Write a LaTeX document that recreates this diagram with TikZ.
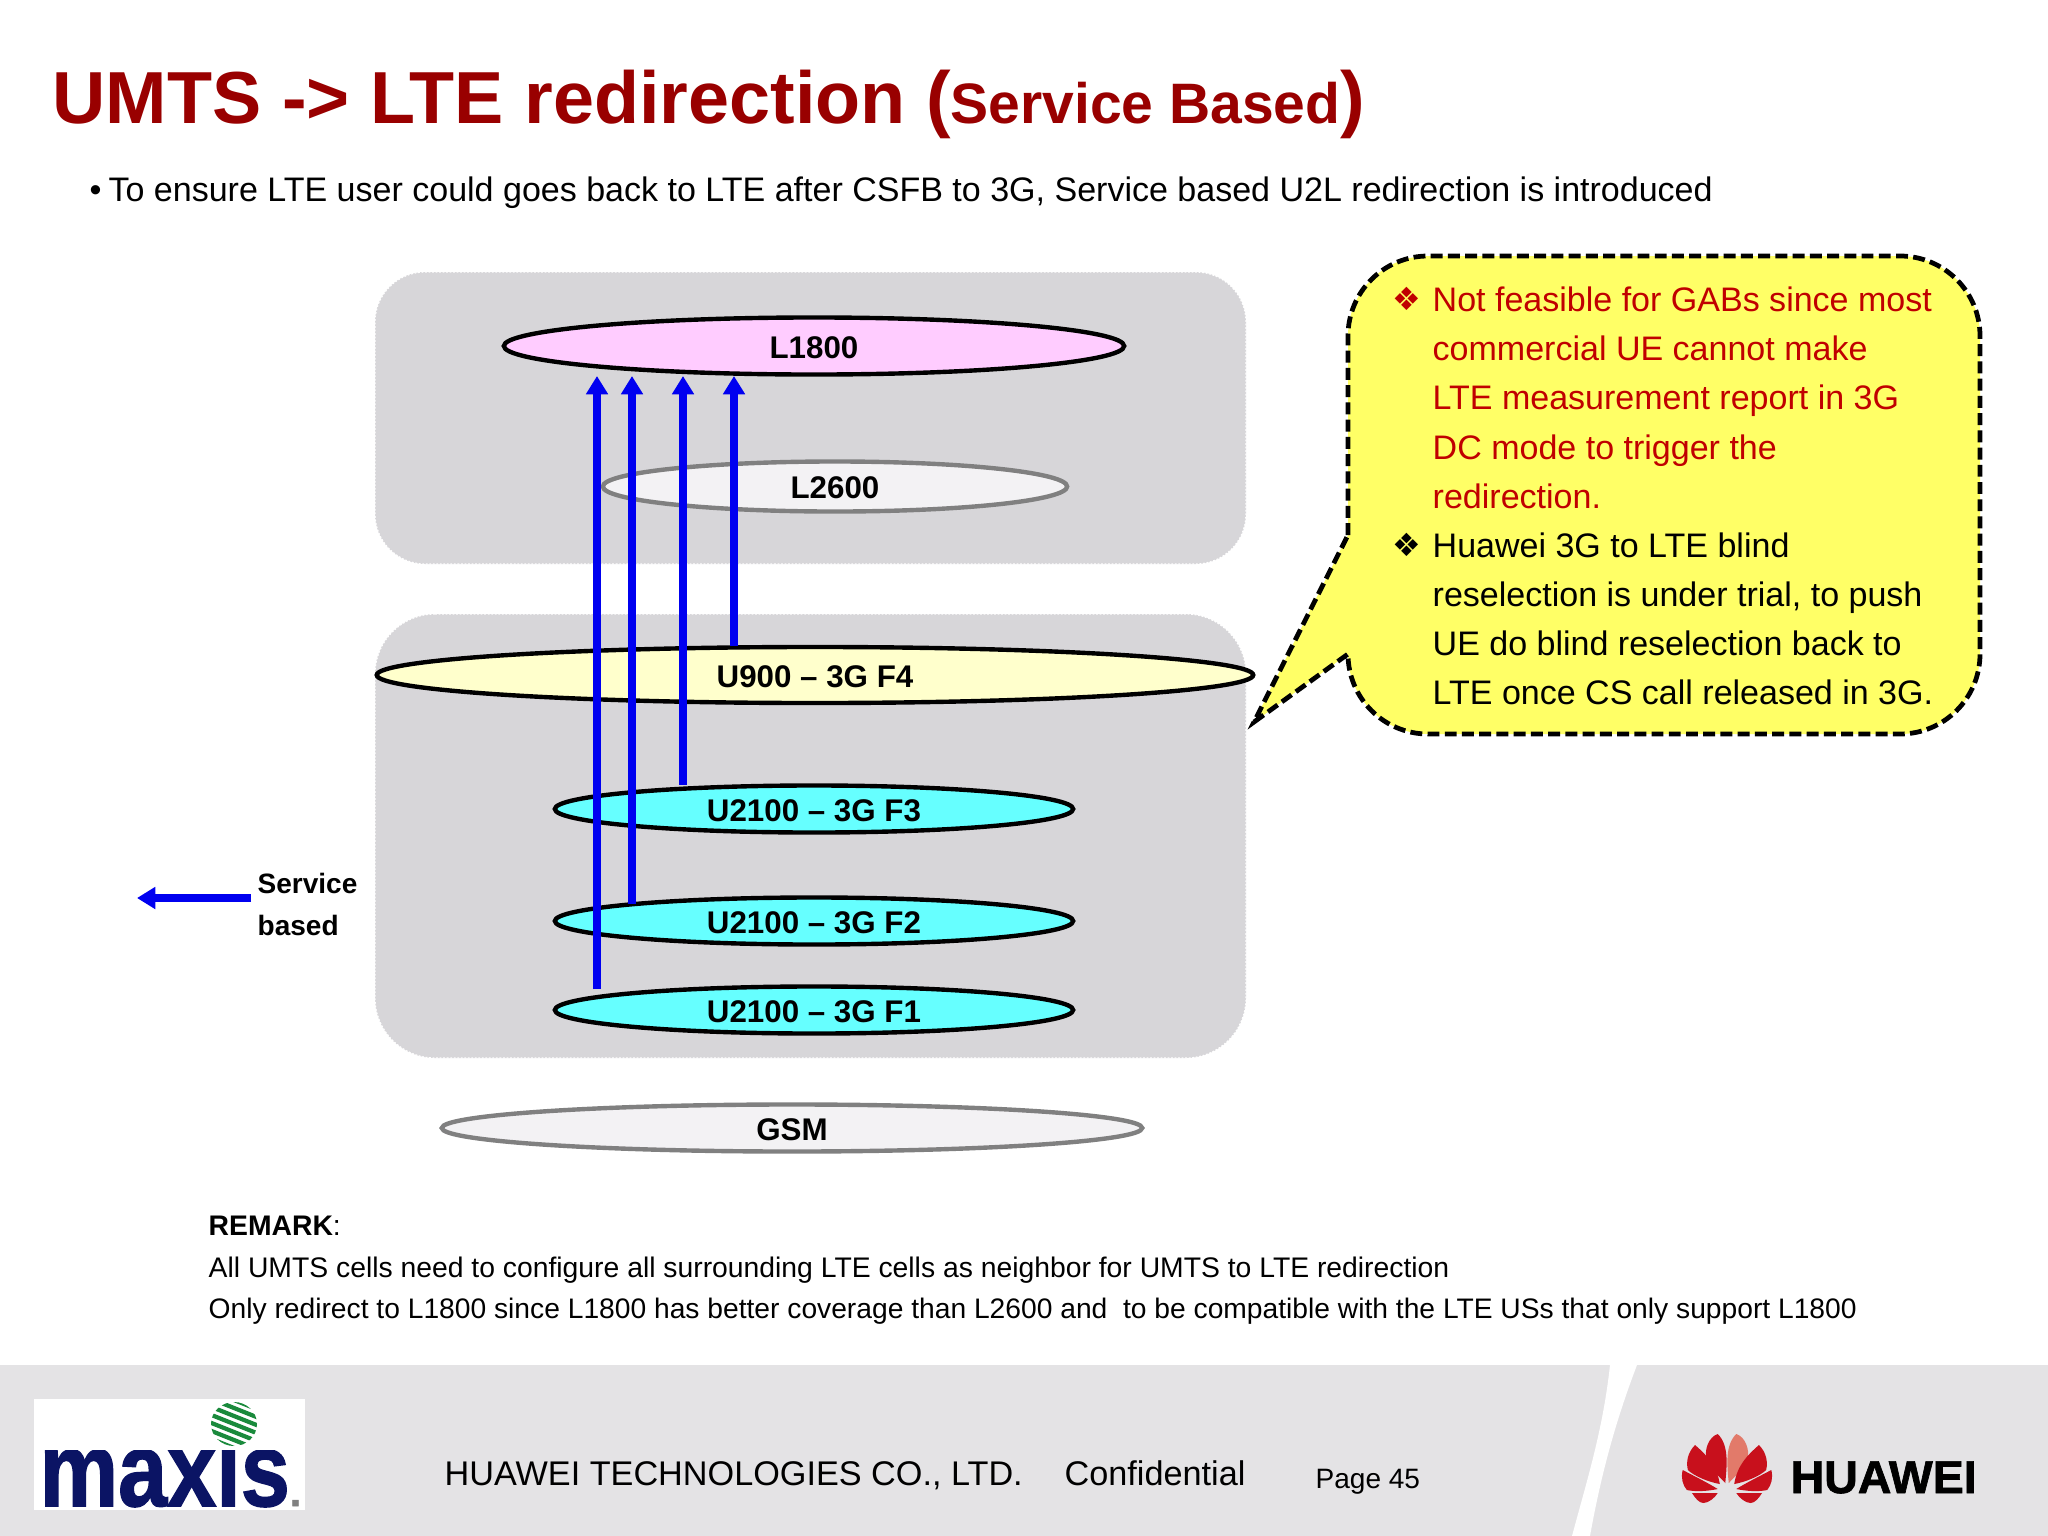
\documentclass[tikz,border=0pt]{standalone}
\usepackage{graphicx}
\usepackage{fontspec}
\setmainfont{Liberation Sans}
\newfontfamily\symfont{DejaVu Sans}
\newfontfamily\logofont[FakeBold=1.5]{Liberation Sans Bold}
\usetikzlibrary{shapes.geometric,arrows.meta,calc}
\newcommand\pxfont[1]{\fontsize{\fpeval{#1*0.28453}pt}{\fpeval{#1*0.28453*1.2}pt}\selectfont}
\definecolor{panel}{HTML}{D7D6D9}
\definecolor{footerbg}{HTML}{E4E3E5}
\definecolor{titlered}{HTML}{990000}
\definecolor{callred}{HTML}{C00000}
\definecolor{lpink}{HTML}{FFCCFF}
\definecolor{lgrey}{HTML}{F3F2F4}
\definecolor{uyellow}{HTML}{FFFFCC}
\definecolor{ucyan}{HTML}{66FFFF}
\definecolor{calloutyel}{HTML}{FFFF66}
\definecolor{flowblue}{HTML}{0000F0}
\definecolor{midgrey}{HTML}{808080}
\definecolor{maxblue}{HTML}{0B1464}
\definecolor{maxgreen}{HTML}{1A8A3C}
\definecolor{huared}{HTML}{C8101C}
\definecolor{hualight}{HTML}{E27A6A}
\tikzset{
  x=0.01cm,y=-0.01cm,
  panelbox/.style={fill=panel,draw=white,line width=0.35pt,dash pattern=on 0.5pt off 0.5pt},
  cell/.style={ellipse,inner sep=0pt,line width=1.25pt,font=\pxfont{31.3}\bfseries,text height=6.9pt,text depth=0pt},
  blackcell/.style={cell,draw=black},
  greycell/.style={cell,draw=midgrey,fill=lgrey},
  flow/.style={draw=flowblue,line width=2pt,-{Triangle[length=5.2pt,width=6pt]}},
  txt/.style={inner sep=0pt,anchor=base west},
}
\begin{document}
\begin{tikzpicture}
\path[fill=white,use as bounding box] (0,0) rectangle (2048,1536);
% footer
\fill[footerbg] (0,1365) rectangle (2048,1536);
\fill[white] (1610,1365) -- (1637,1365) .. controls (1614,1425) and (1600,1480) .. (1590,1536) -- (1572,1536) .. controls (1587,1480) and (1603,1430) .. (1610,1365) -- cycle;
% panels
\path[panelbox] (425,272) -- (1196,272) arc[start angle=90,end angle=0,x radius=50,y radius=-50] -- (1246,514) arc[start angle=0,end angle=-90,x radius=50,y radius=-50] -- (425,564) arc[start angle=270,end angle=180,x radius=50,y radius=-50] -- (375,322) arc[start angle=180,end angle=90,x radius=50,y radius=-50] -- cycle;
\path[panelbox] (435,614) -- (1186,614) arc[start angle=90,end angle=0,x radius=60,y radius=-60] -- (1246,998) arc[start angle=0,end angle=-90,x radius=60,y radius=-60] -- (435,1058) arc[start angle=270,end angle=180,x radius=60,y radius=-60] -- (375,674) arc[start angle=180,end angle=90,x radius=60,y radius=-60] -- cycle;
% title
\node[txt,text=titlered,font=\bfseries] (title) at (52,123) {\pxfont{73.7}UMTS -> LTE redirection (\pxfont{57}Service Based\pxfont{73.7})};
\node[txt] (intro) at (89,201) {\pxfont{34}•\hspace{-0.7pt} To ensure LTE user could goes back to LTE after CSFB to 3G, Service based U2L redirection is introduced};
% cells
\node[blackcell,fill=lpink,minimum width=6.2cm,minimum height=0.57cm] (l1800) at (814,346) {L1800};
\node[greycell,minimum width=4.64cm,minimum height=0.5cm] (l2600) at (835,486.5) {L2600};
\node[blackcell,fill=uyellow,minimum width=8.76cm,minimum height=0.56cm] (u900) at (815,675) {U900 – 3G F4};
\node[blackcell,fill=ucyan,minimum width=5.18cm,minimum height=0.47cm] (f3) at (814,809) {U2100 – 3G F3};
\node[blackcell,fill=ucyan,minimum width=5.18cm,minimum height=0.47cm] (f2) at (814,921) {U2100 – 3G F2};
\node[blackcell,fill=ucyan,minimum width=5.18cm,minimum height=0.47cm] (f1) at (814,1010) {U2100 – 3G F1};
\node[greycell,minimum width=7cm,minimum height=0.47cm] (gsm) at (792,1128) {GSM};
% flows
\coordinate (a1s) at (597,989); \coordinate (a1e) at (597,376);
\coordinate (a2s) at (632,904); \coordinate (a2e) at (632,376);
\coordinate (a3s) at (683,785); \coordinate (a3e) at (683,376);
\coordinate (a4s) at (734,646); \coordinate (a4e) at (734,376);
\draw[flow] (a1s) -- (a1e);
\draw[flow] (a2s) -- (a2e);
\draw[flow] (a3s) -- (a3e);
\draw[flow] (a4s) -- (a4e);
% legend
\coordinate (legs) at (251,898); \coordinate (lege) at (137,898);
\draw[flow] (legs) -- (lege);
\node[txt,font=\pxfont{28}\bfseries] (svc1) at (257,893) {Service};
\node[txt,font=\pxfont{28}\bfseries] (svc2) at (257,935) {based};
% callout
\draw[fill=calloutyel,line width=1.35pt,dash pattern=on 3.4pt off 1.5pt]
 (1348,535) -- (1348,336) arc[start angle=180,end angle=90,x radius=80,y radius=-80]
 -- (1900,256) arc[start angle=90,end angle=0,x radius=80,y radius=-80]
 -- (1980,654) arc[start angle=0,end angle=-90,x radius=80,y radius=-80]
 -- (1428,734) arc[start angle=270,end angle=180,x radius=80,y radius=-80]
 -- (1254,722) -- cycle;
\newcommand\dia{{\symfont\pxfont{32}\char"2756}}
\foreach \yy/\nm/\col in {310/bu1/callred,556/bu2/black}
  \node[txt,text=\col] (\nm) at (1392,\yy) {\dia};
\foreach \yy/\nm/\col/\tx in {
 311/c1/callred/Not feasible for GABs since most,
 360/c2/callred/commercial UE cannot make,
 409/c3/callred/LTE measurement report in 3G,
 459/c4/callred/DC mode to trigger the,
 508/c5/callred/redirection.,
 557/c6/black/Huawei 3G to LTE blind,
 606/c7/black/reselection is under trial{,} to push,
 655/c8/black/UE do blind reselection back to,
 704/c9/black/LTE once CS call released in 3G.}
  \node[txt,text=\col,font=\pxfont{34}] (\nm) at (1432,\yy) {\tx};
% remark
\node[txt,font=\pxfont{28.3}] (r1) at (208,1235) {\textbf{REMARK}:};
\node[txt,font=\pxfont{28.3}] (r2) at (208,1277) {All UMTS cells need to configure all surrounding LTE cells as neighbor for UMTS to LTE redirection};
\node[txt,font=\pxfont{28.2}] (r3) at (208,1318) {Only redirect to L1800 since L1800 has better coverage than L2600 and\ \ to be compatible with the LTE USs that only support L1800};
% footer text
\node[txt,font=\pxfont{34.2}] (f1t) at (444,1485) {HUAWEI TECHNOLOGIES CO., LTD.};
\node[txt,font=\pxfont{34.2}] (f2t) at (1064,1485) {Confidential};
\node[txt,font=\pxfont{28}] (f3t) at (1315,1488) {Page 45};
% maxis logo
\fill[white] (34,1399) rectangle (305,1510);
\node[txt,text=maxblue] (maxis) at (39,1506) {\logofont\scalebox{0.84}[1]{\pxfont{105}maxis}\textcolor{midgrey}{\pxfont{40}.}};
\fill[white] (34,1399) rectangle (305,1450);
\begin{scope}
\clip (234,1424) ellipse[x radius=23,y radius=22];
\foreach \k in {-5,...,5}
  \draw[maxgreen,line width=1.2pt] ($(234,1424)+(-35,{\k*8-14})$) -- ++(70,28);
\end{scope}
% huawei logo
\foreach \s/\c in {1/hualight,-1/huared}{
\begin{scope}[shift={(1727,1340)},xscale=\s*1.03]
\fill[\c] (1.7,143) .. controls (0,125) and (-2,105) .. (9,94) .. controls (18,97) and (22,110) .. (20,118) .. controls (18,128) and (8,136) .. (1.7,143) -- cycle;
\fill[huared] (7,144) .. controls (10,125) and (20,115) .. (31,105) .. controls (38,112) and (40,122) .. (38,130) .. controls (32,136) and (18,142) .. (7,144) -- cycle;
\fill[huared] (9,149) .. controls (20,142) and (32,136) .. (43,130) .. controls (45,138) and (43,145) .. (39,150) .. controls (30,152) and (18,151) .. (9,149) -- cycle;
\fill[huared] (9,153) -- (34,153) .. controls (31,158) and (27,163) .. (23,163) .. controls (18,163) and (12,158) .. (9,153) -- cycle;
\end{scope}}
\node[txt] (hw) at (1790,1493) {\logofont\pxfont{46}\scalebox{1.01}[1]{HUAWEI}};
\end{tikzpicture}
\end{document}
